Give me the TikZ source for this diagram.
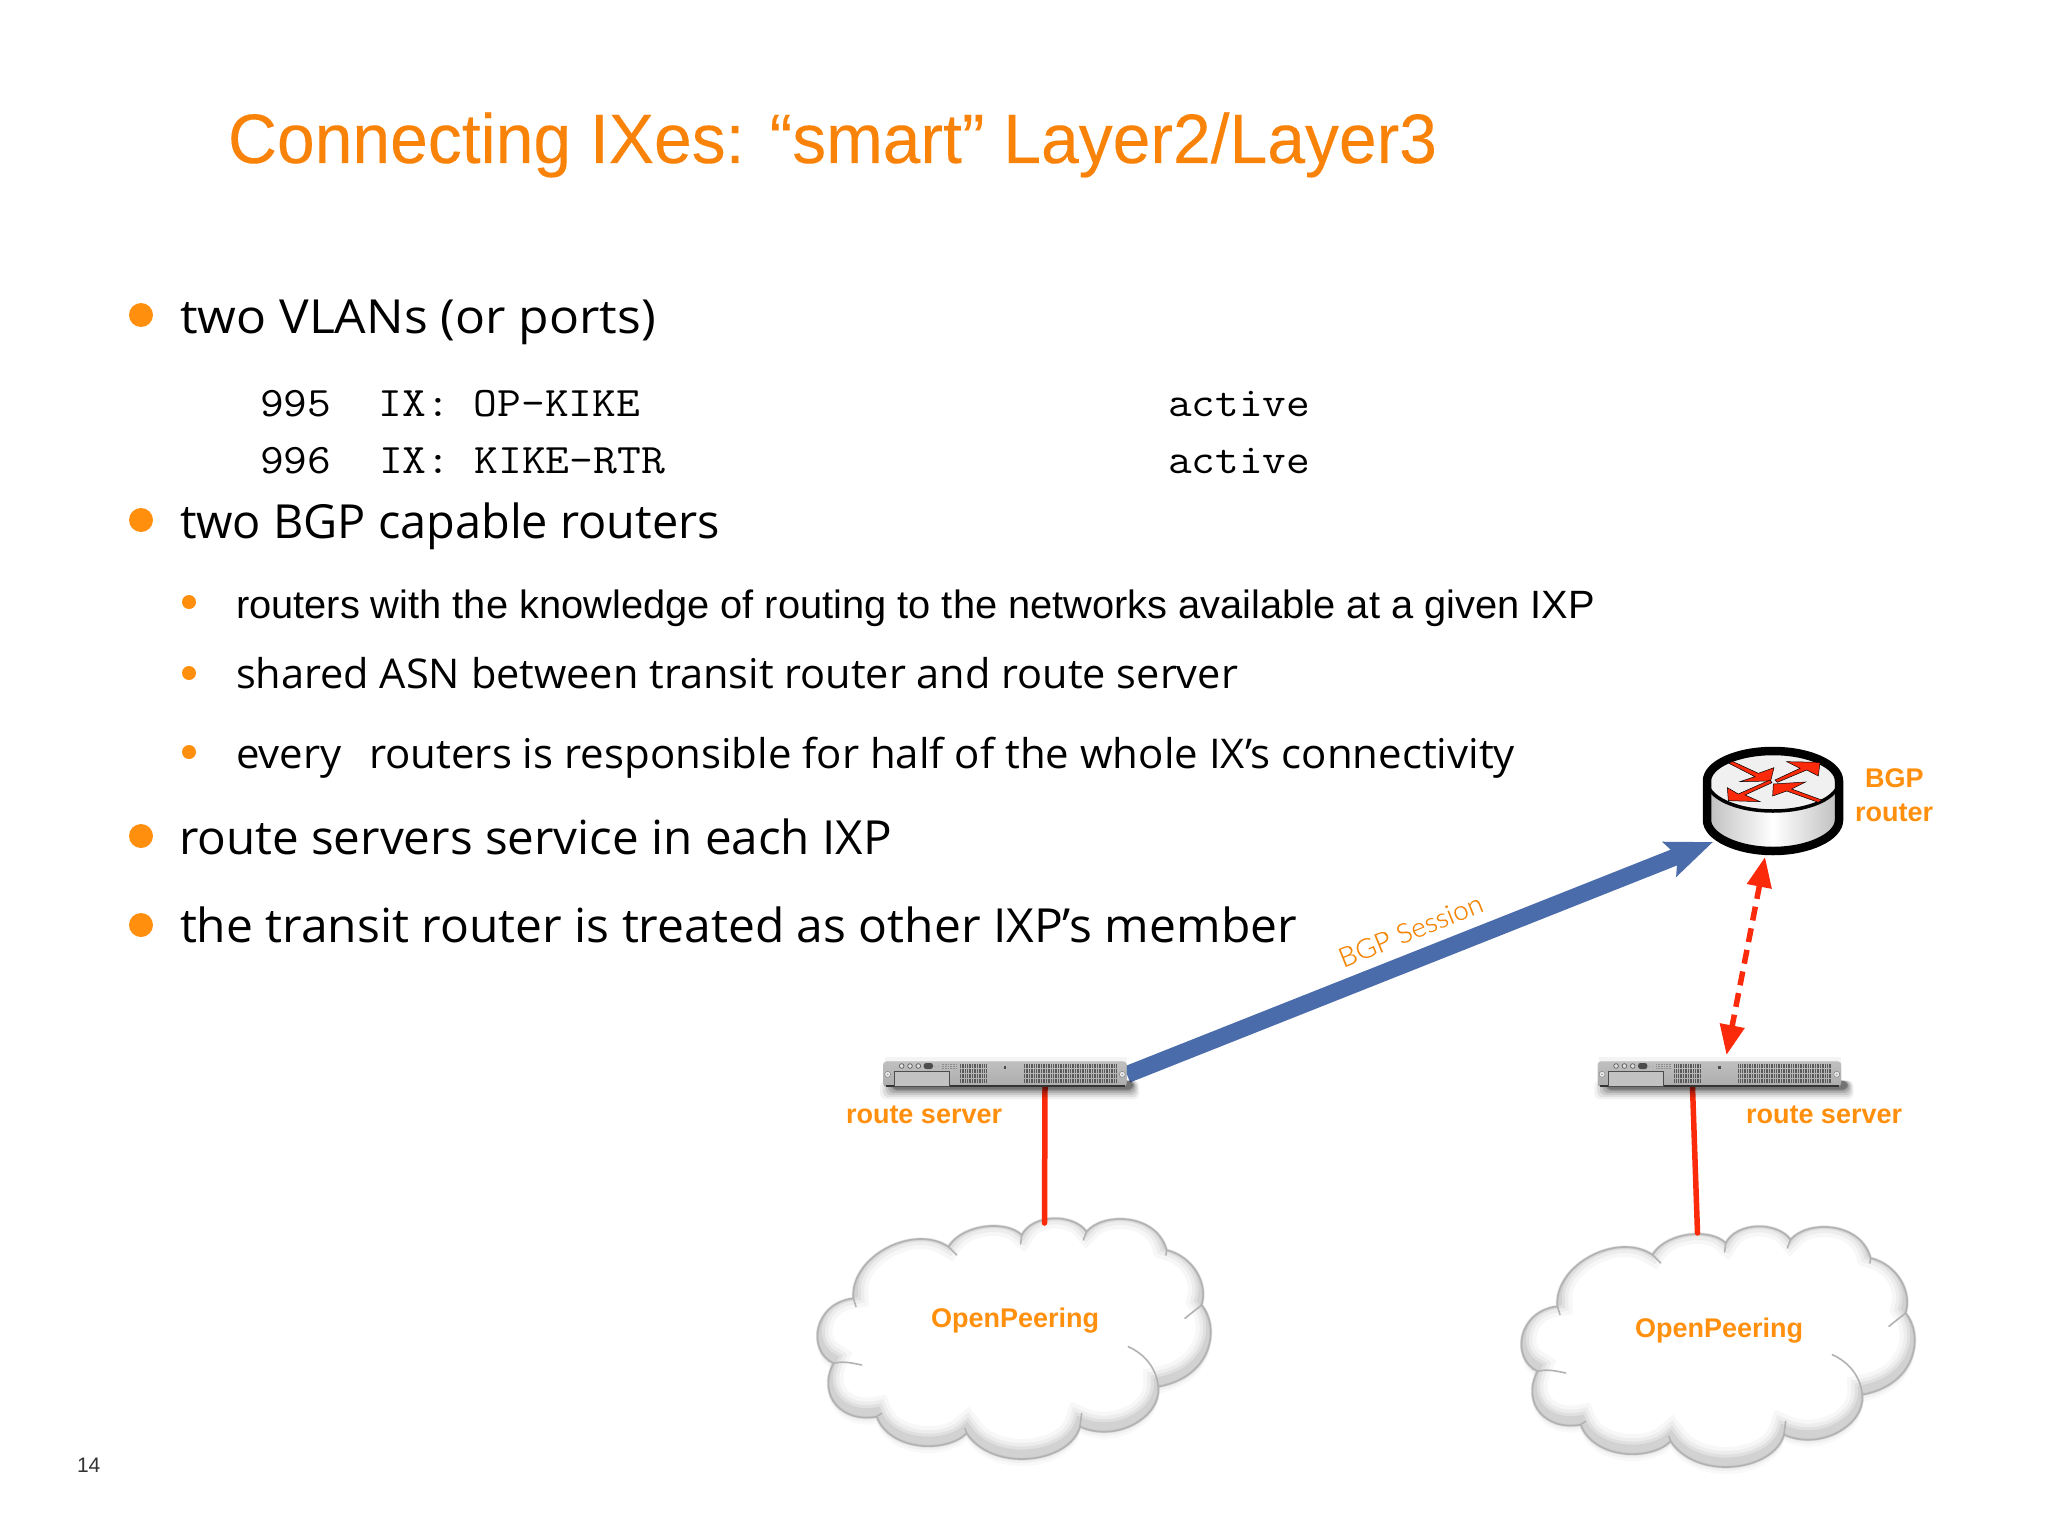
\documentclass[tikz,border=0pt]{standalone}
\usepackage{fontspec}
\usepackage{graphicx}
\usetikzlibrary{arrows.meta,calc}
\setmainfont{Liberation Sans}
\newfontfamily\bodyf{Open Sans}
\newfontfamily\lightf{Lato Light}
\newcommand{\fitw}[3]{\resizebox{#1pt}{\height}{\fontsize{#2pt}{#2pt}\selectfont #3}}
\definecolor{ora}{HTML}{FF8F0C}
\definecolor{sessora}{HTML}{F58505}
\definecolor{titleora}{HTML}{F98209}
\definecolor{redl}{HTML}{FB2A0B}
\definecolor{bluel}{HTML}{4A6CAB}
\tikzset{
 txt/.style={anchor=base west,inner sep=0pt,outer sep=0pt,text=black},
 lab/.style={inner sep=0pt,outer sep=0pt,text=ora,font=\bfseries,anchor=base west},
 bigb/.style={circle,fill=ora,minimum size=24pt,inner sep=0pt},
 smallb/.style={circle,fill=ora,minimum size=14pt,inner sep=0pt},
 holder/.style={inner sep=0pt,outer sep=0pt},
 redline/.style={draw=redl,line width=5.5pt,line cap=round},
 vent/.style={draw=black!65,line width=4pt,dash pattern=on 0.9pt off 0.8pt},
}
\def\cloudpath{(160,295) .. controls (150,170) and (340,70) .. (445,140)
 .. controls (490,70) and (620,60) .. (665,105)
 .. controls (700,40) and (820,40) .. (860,95)
 .. controls (910,35) and (1070,40) .. (1100,150)
 .. controls (1180,170) and (1225,250) .. (1205,315)
 .. controls (1260,380) and (1240,530) .. (1075,560)
 .. controls (1085,650) and (950,730) .. (840,680)
 .. controls (810,790) and (580,820) .. (500,700)
 .. controls (440,760) and (270,755) .. (230,650)
 .. controls (130,670) and (50,590) .. (100,490)
 .. controls (20,450) and (40,310) .. (160,295) -- cycle}
\newcommand{\cloudart}[2]{%
 \begin{scope}[shift={(#1,#2)},x=0.3333pt,y=-0.3333pt]
  \fill[black,opacity=0.025] [yshift=-7pt] \cloudpath;
  \fill[black,opacity=0.03] [yshift=-4pt] \cloudpath;
  \fill[white] \cloudpath;
  \begin{scope}
   \clip \cloudpath;
   \begin{scope}[yshift=5pt]
    \draw[black,opacity=0.03,line width=30pt] \cloudpath;
    \draw[black,opacity=0.04,line width=22pt] \cloudpath;
    \draw[black,opacity=0.05,line width=15pt] \cloudpath;
    \draw[black,opacity=0.06,line width=9pt] \cloudpath;
   \end{scope}
  \end{scope}
  \draw[black!27,line width=3pt,opacity=0.35] \cloudpath;
  \draw[black!30,line width=1.6pt] \cloudpath;
  \draw[black!30,line width=1.6pt,line cap=round]
    (160,295) -- (168,320) (445,140) -- (470,165) (665,105) -- (662,132)
    (860,95) -- (850,120) (1100,150) -- (1098,165) (1205,315) -- (1155,355)
    (985,440) .. controls (1040,465) and (1070,510) .. (1075,560)
    (100,490) .. controls (130,482) and (160,490) .. (185,495)
    (230,650) -- (245,640) (500,700) -- (495,685) (840,680) -- (845,640);
 \end{scope}}
\newcommand{\serverart}[1]{%
 \begin{scope}[shift={(#1,1040)},x=0.3333pt,y=-0.3333pt]
  \foreach \d/\o in {20/0.05,16/0.08,12/0.10,8/0.13,4/0.16,2/0.2}{
   \fill[black,opacity=\o,rounded corners=6pt] (100-\d*2,122) rectangle (818+\d*1.0,146+\d*1.6);}
  \fill[black!20,opacity=0.2] (75,52) rectangle (800,66);
  \fill[black!38,rounded corners=3pt] (70,65) rectangle (800,140);
  \shade[top color=black!25,bottom color=black!32,rounded corners=3pt] (70,65) rectangle (800,136);
  \fill[black!80] (78,136) rectangle (795,141);
  \draw[black!70,line width=0.7pt,fill=black!24] (102,138) rectangle (268,95);
  \foreach \x in {125,150,175}{\draw[black!65,line width=0.7pt,fill=black!12] (\x,78) circle (7);}
  \fill[black!70,rounded corners=2.5pt] (191,69) rectangle (219,87);
  \foreach \x in {225,235}{\fill[black!35] (\x,79) circle (2.5);}
  \draw[black!45,line width=1pt,dash pattern=on 1pt off 0.6pt] (245,73) -- (292,73) (245,79) -- (292,79) (245,85) -- (292,85);
  \foreach \y in {78,93,108,124}{
    \draw[vent] (300,\y) -- (378,\y);
    \draw[vent] (492,\y) -- (770,\y);}
  \fill[black!70] (431,78) rectangle (439,86);
  \foreach \x in {83,787}{\draw[black!50,line width=0.5pt,fill=black!8] (\x,103) circle (9);
    \fill[black!35] (\x,103) circle (3);}
 \end{scope}}
\begin{document}
\begin{tikzpicture}[x=1pt,y=-1pt]
\useasboundingbox (0,0) rectangle (2048,1536);
\fill[white] (0,0) rectangle (2048,1536);

% Title
\node[txt,text=titleora] (title) at (228,163) {\fitw{1209}{70}{\addfontfeature{FakeBold=0.12}Connecting IXes: “smart” Layer2/Layer3}};

% Bullets
\node[bigb] (b1) at (141,315) {};
\node[bigb] (b2) at (141,520) {};
\node[bigb] (b3) at (141,836) {};
\node[bigb] (b4) at (141,925) {};
\node[smallb] (s1) at (189,602) {};
\node[smallb] (s2) at (189,673) {};
\node[smallb] (s3) at (189,752) {};

% Body text
\node[txt,font=\bodyf] (t1) at (180,333) {\fitw{476}{47}{two VLANs (or ports)}};
\node[txt,font=\bodyf] (t2) at (180,538) {\fitw{540}{47}{two BGP capable routers}};
\node[txt] (t3) at (236,618) {\fitw{1359}{39.5}{routers with the knowledge of routing to the networks available at a given IXP}};
\node[txt,font=\bodyf] (t4) at (236,688) {\fitw{1002}{41}{shared ASN between transit router and route server}};
\node[txt,font=\bodyf] (t5) at (236,768) {\fitw{1279}{41}{every\hspace{0.66em}routers is responsible for half of the whole IX’s connectivity}};
\node[txt,font=\bodyf] (t6) at (179,854) {\fitw{713}{47}{route servers service in each IXP}};
\node[txt,font=\bodyf] (t7) at (180,942) {\fitw{1117}{47}{the transit router is treated as other IXP’s member}};

% Mono
\node[txt] (m1) at (260,416) {\fitw{380}{42}{\ttfamily\addfontfeature{FakeBold=0.9}995\ \ IX: OP-KIKE}};
\node[txt] (m2) at (260,473.5) {\fitw{405}{42}{\ttfamily\addfontfeature{FakeBold=0.9}996\ \ IX: KIKE-RTR}};
\node[txt] (m3) at (1168,416) {\fitw{142}{42}{\ttfamily\addfontfeature{FakeBold=0.9}active}};
\node[txt] (m4) at (1168,473.5) {\fitw{142}{42}{\ttfamily\addfontfeature{FakeBold=0.9}active}};

\node[txt,text=black!80] (pg) at (77,1472) {\fontsize{21}{21}\selectfont 14};

% Holders
\node[holder,minimum width=244pt,minimum height=25pt] (rsL) at (1005,1074.5) {};
\node[holder,minimum width=244pt,minimum height=25pt] (rsR) at (1719.5,1074.5) {};
\node[holder,minimum width=140pt,minimum height=107pt] (router) at (1773,801.5) {};
\node[holder,minimum width=395pt,minimum height=247pt] (cloudL) at (1014.5,1341.5) {};
\node[holder,minimum width=395pt,minimum height=247pt] (cloudR) at (1718.5,1350.5) {};

% Clouds
\cloudart{800}{1200}
\cloudart{1504}{1208}

% Connectors behind the servers
\draw[bluel,line width=17pt,-{Stealth[length=46pt,width=36pt,inset=8pt]}] (rsL.east) -- ([shift={(10,-13)}]router.south west);
\draw[redline] ([xshift=40pt]rsL.south) -- ([shift={(30,5)}]cloudL.north);
\draw[redline] ([xshift=-27pt]rsR.south) -- ([shift={(-21,6)}]cloudR.north);
\draw[redl,line width=5.5pt,dash pattern=on 14pt off 8pt,{Triangle[length=30pt,width=24pt]}-{Triangle[length=30pt,width=24pt]}] ([shift={(-8,2)}]router.south) -- ([shift={(7,-7)}]rsR.north);

% Servers
\serverart{860}
\serverart{1574.4}

% Router
\shade[left color=black!25,right color=black!25,middle color=white] (1708,781) -- (1708,820) .. controls (1708,836.6) and (1737,851) .. (1773,851) .. controls (1809,851) and (1838,836.6) .. (1838,820) -- (1838,781) -- cycle;
\draw[black,line width=3.5pt,fill=black!6] (1773,781) ellipse [x radius=66,y radius=30];
\draw[black,line width=8.5pt,line join=round] (1773,751) .. controls (1809,751) and (1839,764.4) .. (1839,781) -- (1839,820) .. controls (1839,836.6) and (1809,851) .. (1773,851) .. controls (1737,851) and (1707,836.6) .. (1707,820) -- (1707,781) .. controls (1707,764.4) and (1737,751) .. (1773,751) -- cycle;
\begin{scope}[shift={(1650,720)},x=0.3333pt,y=-0.3333pt,black,line width=0.5pt]
 \filldraw[fill=redl] (237,130) -- (247,124) -- (325,160) -- (372,143) -- (362,183) -- (270,185) -- (315,170) -- cycle;
 \filldraw[fill=redl] (375,180) -- (450,145) -- (410,125) -- (510,127) -- (505,168) -- (470,150) -- (382,187) -- cycle;
 \filldraw[fill=redl] (360,180) -- (366,188) -- (285,225) -- (330,245) -- (235,242) -- (232,203) -- (265,222) -- cycle;
 \filldraw[fill=redl] (370,192) -- (467,186) -- (425,207) -- (515,240) -- (505,247) -- (410,213) -- (368,228) -- cycle;
\end{scope}

% Labels
\node[lab,font=\bfseries\fontsize{27}{27}\selectfont] (lrsL) at (846,1123) {route server};
\node[lab,font=\bfseries\fontsize{27}{27}\selectfont] (lrsR) at (1746,1123) {route server};
\node[lab,font=\bfseries\fontsize{27}{27}\selectfont] (lbgp) at (1865,787) {BGP};
\node[lab,font=\bfseries\fontsize{27}{27}\selectfont] (lrt) at (1855,821) {router};
\node[lab,font=\bfseries\fontsize{27}{27}\selectfont] (ocL) at (931,1327) {OpenPeering};
\node[lab,font=\bfseries\fontsize{27}{27}\selectfont] (ocR) at (1635,1337) {OpenPeering};
\node[inner sep=0pt,anchor=base west,text=sessora,rotate=22,font=\lightf] (sess) at (1343,968) {\fitw{153}{27}{\addfontfeature{FakeBold=0.15}BGP Session}};
\end{tikzpicture}
\end{document}
